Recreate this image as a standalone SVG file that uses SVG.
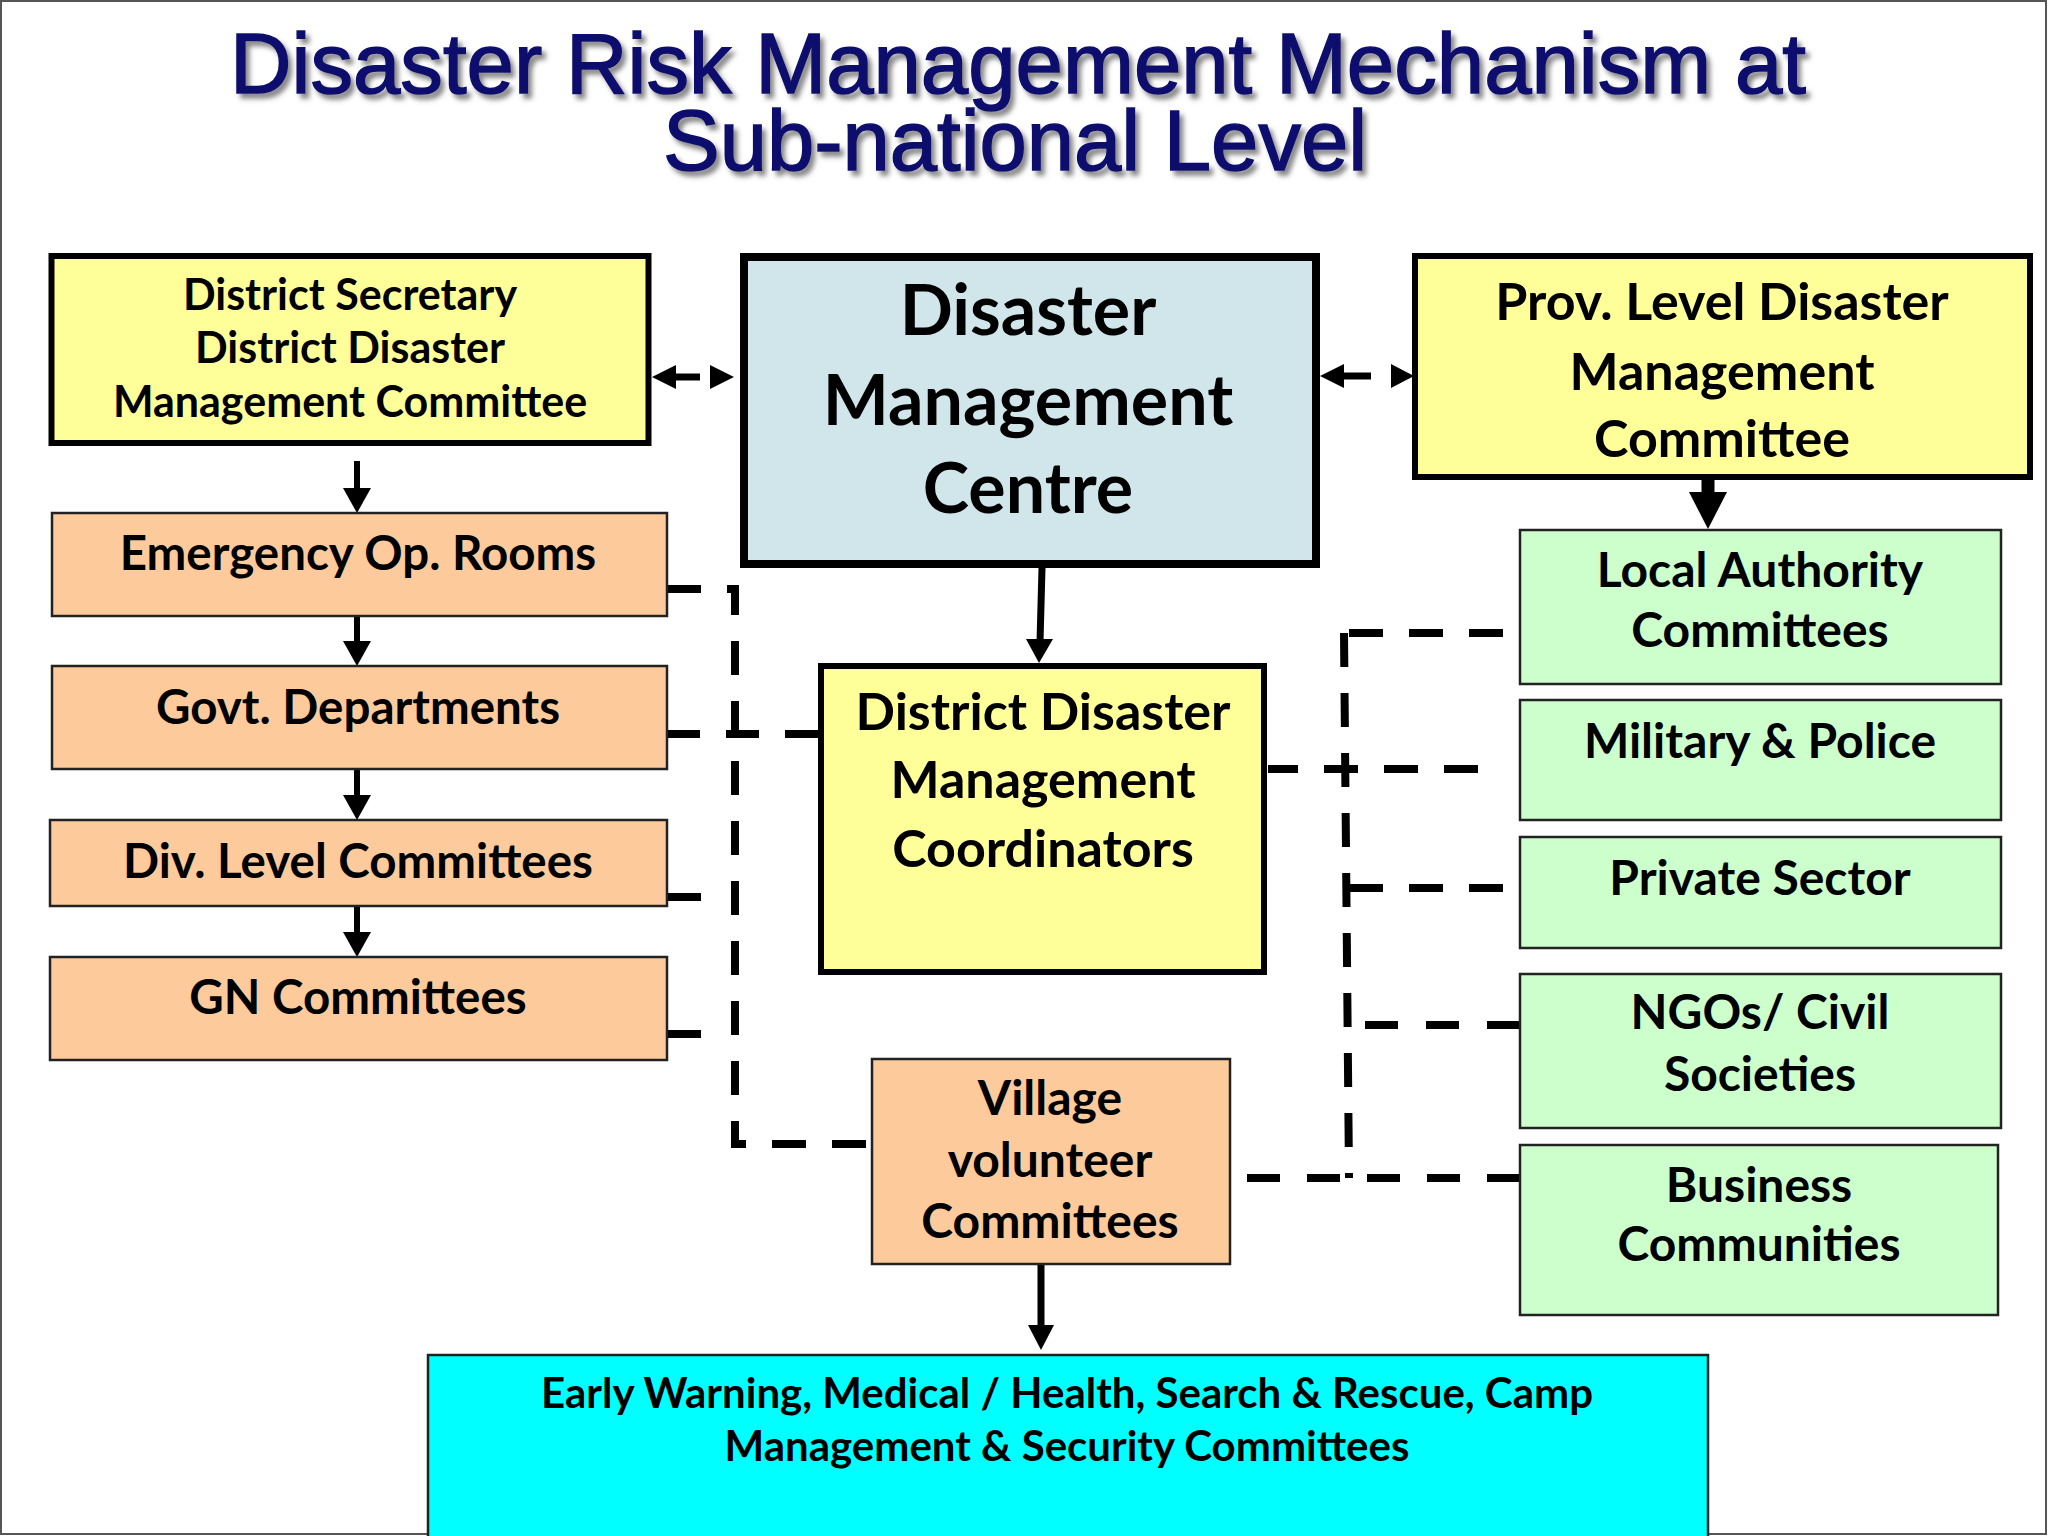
<svg xmlns="http://www.w3.org/2000/svg" width="2048" height="1536" viewBox="0 0 2048 1536">
<defs>
<filter id="shadow" x="-5%" y="-20%" width="110%" height="150%">
<feDropShadow dx="4" dy="5" stdDeviation="2.5" flood-color="#555" flood-opacity="0.7"/>
</filter>
<style>
.title{font-family:"Liberation Sans",Arial,sans-serif;font-size:85px;fill:#0B0B6E;stroke:#0B0B6E;stroke-width:1.5px;text-anchor:middle;filter:url(#shadow)}
.t{font-family:Lato,"Open Sans",sans-serif;font-weight:bold;fill:#000;text-anchor:middle}
.thick{stroke:#000;stroke-width:6}
.yellow{fill:#FFFF99}
.peach{fill:#FDCB9B;stroke:#222;stroke-width:2.5}
.green{fill:#CCFFCC;stroke:#222;stroke-width:2.5}
.cyan{fill:#00FFFF;stroke:#222;stroke-width:2.5}
.dash{fill:none;stroke:#000;stroke-width:8;stroke-dasharray:34 26}
.solid{fill:none;stroke:#000;stroke-width:6}
.head{fill:#000}
</style>
</defs>
<rect x="0" y="0" width="2048" height="1536" fill="#fff"/>
<rect x="1" y="1" width="2045" height="1533" fill="none" stroke="#555" stroke-width="2"/>

<g id="title">
<text class="title" x="1018" y="93" textLength="1576" lengthAdjust="spacingAndGlyphs">Disaster Risk Management Mechanism at</text>
<text class="title" x="1015" y="170">Sub-national Level</text>
</g>

<g id="connectors">
<!-- bidirectional arrows -->
<line class="solid" x1="674" y1="377" x2="700" y2="377" style="stroke-width:7"/>
<polygon class="head" points="652,377 676,365 676,389"/>
<polygon class="head" points="734,377 710,365 710,389"/>
<line class="solid" x1="1342" y1="376" x2="1371" y2="376" style="stroke-width:7"/>
<polygon class="head" points="1320,376 1344,364 1344,388"/>
<polygon class="head" points="1414,376 1391,364 1391,388"/>
<!-- left vertical chain -->
<line class="solid" x1="357" y1="461" x2="357" y2="490"/>
<polygon class="head" points="357,513 343,488 371,488"/>
<line class="solid" x1="357" y1="616" x2="357" y2="643"/>
<polygon class="head" points="357,666 343,641 371,641"/>
<line class="solid" x1="357" y1="769" x2="357" y2="797"/>
<polygon class="head" points="357,820 343,795 371,795"/>
<line class="solid" x1="357" y1="906" x2="357" y2="934"/>
<polygon class="head" points="357,957 343,932 371,932"/>
<!-- DMC to DDMC -->
<line class="solid" x1="1042" y1="568" x2="1040" y2="642" style="stroke-width:7"/>
<polygon class="head" points="1039,663 1026,639 1053,639"/>
<!-- Village to bottom -->
<line class="solid" x1="1041" y1="1264" x2="1041" y2="1328" style="stroke-width:7"/>
<polygon class="head" points="1041,1350 1028,1325 1054,1325"/>
<!-- Prov to Local -->
<line class="solid" x1="1708" y1="480" x2="1708" y2="496" style="stroke-width:13"/>
<polygon class="head" points="1708,529 1689,492 1727,492"/>
<!-- left dashed -->
<path class="dash" d="M667,589 H735 V1144 H872"/>
<path class="dash" d="M667,734 H818" style="stroke-dasharray:33 26"/>
<path class="dash" d="M667,897 H701"/>
<path class="dash" d="M667,1034 H701"/>
<!-- right dashed -->
<path class="dash" d="M1344,633 L1349,1178"/>
<path class="dash" d="M1503,633 H1349"/>
<path class="dash" d="M1268,769 H1478" style="stroke-dashoffset:4"/>
<path class="dash" d="M1503,888 H1346"/>
<path class="dash" d="M1520,1025 H1365" style="stroke-dasharray:33 28"/>
<path class="dash" d="M1520,1178 H1247" style="stroke-dasharray:33 27"/>
</g>

<g id="district-secretary">
<rect class="yellow thick" x="51.5" y="256" width="597" height="187"/>
<text class="t" x="350" y="310" font-size="43">District Secretary</text>
<text class="t" x="350" y="363" font-size="43">District Disaster</text>
<text class="t" x="350" y="417" font-size="43">Management Committee</text>
</g>

<g id="dmc">
<rect x="744" y="257" width="572" height="307" fill="#D0E6EA" stroke="#000" stroke-width="8"/>
<text class="t" x="1028" y="335" font-size="70">Disaster</text>
<text class="t" x="1028" y="425" font-size="70">Management</text>
<text class="t" x="1028" y="513" font-size="70">Centre</text>
</g>

<g id="prov">
<rect class="yellow thick" x="1415" y="256" width="615" height="221"/>
<text class="t" x="1722" y="320" font-size="52">Prov. Level Disaster</text>
<text class="t" x="1722" y="390" font-size="52">Management</text>
<text class="t" x="1722" y="457" font-size="52">Committee</text>
</g>

<g id="emergency">
<rect class="peach" x="52" y="513" width="615" height="103"/>
<text class="t" x="358" y="570" font-size="47.5">Emergency Op. Rooms</text>
</g>

<g id="govt">
<rect class="peach" x="52" y="666" width="615" height="103"/>
<text class="t" x="358" y="724" font-size="47.5">Govt. Departments</text>
</g>

<g id="div">
<rect class="peach" x="50" y="820" width="617" height="86"/>
<text class="t" x="358" y="878" font-size="47.5">Div. Level Committees</text>
</g>

<g id="gn">
<rect class="peach" x="50" y="957" width="617" height="103"/>
<text class="t" x="358" y="1014" font-size="47.5">GN Committees</text>
</g>

<g id="ddmc">
<rect class="yellow thick" x="821" y="666" width="443" height="306"/>
<text class="t" x="1043" y="730" font-size="52">District Disaster</text>
<text class="t" x="1043" y="798" font-size="52">Management</text>
<text class="t" x="1043" y="867" font-size="52">Coordinators</text>
</g>

<g id="village">
<rect class="peach" x="872" y="1059" width="358" height="205"/>
<text class="t" x="1050" y="1115" font-size="48">Village</text>
<text class="t" x="1050" y="1177" font-size="48">volunteer</text>
<text class="t" x="1050" y="1238" font-size="48">Committees</text>
</g>

<g id="local-authority">
<rect class="green" x="1520" y="530" width="481" height="154"/>
<text class="t" x="1760" y="587" font-size="48">Local Authority</text>
<text class="t" x="1760" y="647" font-size="48">Committees</text>
</g>

<g id="military">
<rect class="green" x="1520" y="700" width="481" height="120"/>
<text class="t" x="1760" y="758" font-size="48">Military &amp; Police</text>
</g>

<g id="private">
<rect class="green" x="1520" y="837" width="481" height="111"/>
<text class="t" x="1760" y="895" font-size="48">Private Sector</text>
</g>

<g id="ngos">
<rect class="green" x="1520" y="974" width="481" height="154"/>
<text class="t" x="1760" y="1029" font-size="48">NGOs/ Civil</text>
<text class="t" x="1760" y="1091" font-size="48">Societies</text>
</g>

<g id="business">
<rect class="green" x="1520" y="1145" width="478" height="170"/>
<text class="t" x="1759" y="1202" font-size="48">Business</text>
<text class="t" x="1759" y="1261" font-size="48">Communities</text>
</g>

<g id="committees">
<rect class="cyan" x="428" y="1355" width="1280" height="185"/>
<text class="t" x="1067" y="1408" font-size="42">Early Warning, Medical / Health, Search &amp; Rescue, Camp</text>
<text class="t" x="1067" y="1461" font-size="42">Management &amp; Security Committees</text>
</g>
</svg>
